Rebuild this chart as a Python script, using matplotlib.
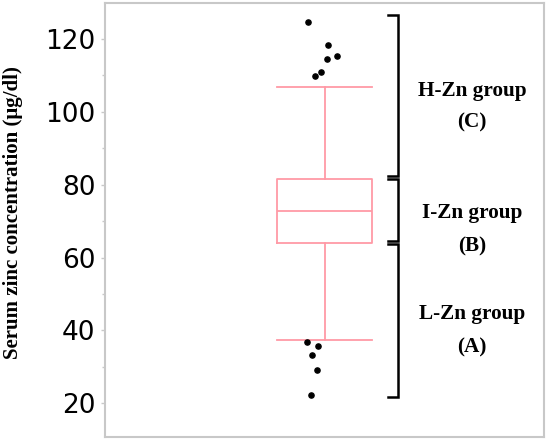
import matplotlib
matplotlib.use('Agg')
import matplotlib.pyplot as plt
from matplotlib.ticker import MultipleLocator

# Box summary (µg/dl)
q1, median, q3 = 64.0, 72.7, 81.5
whisker_low, whisker_high = 37.3, 106.8

# Outliers, with small horizontal jitter as seen in the picture
outlier_x = [-0.075, 0.016, 0.057, 0.011, -0.016, -0.043,
             -0.080, -0.030, -0.057, -0.034, -0.061]
outlier_y = [124.7, 118.3, 115.3, 114.5, 110.9, 109.8,
             36.8, 35.7, 33.2, 29.1, 22.2]

# Group brackets (bottom, top) and their labels
bracket_ranges = [(82.4, 126.6), (64.5, 81.5), (21.6, 63.7)]
group_names = ['H-Zn group', 'I-Zn group', 'L-Zn group']
group_letters = ['(C)', '(B)', '(A)']
name_y = [105.7, 72.2, 44.4]
letter_y = [97.2, 62.9, 35.4]

PINK = '#ff9aa6'
GRAY = '#c8c8c8'

fig = plt.figure(figsize=(5.5, 4.43), dpi=100)
ax = fig.add_axes([105 / 550, 1 - 437 / 443, 439 / 550, 434 / 443])

box_w = 0.437
ax.bxp([{'med': median, 'q1': q1, 'q3': q3,
         'whislo': whisker_low, 'whishi': whisker_high, 'fliers': []}],
       positions=[0], widths=box_w, showfliers=False,
       boxprops=dict(color=PINK, linewidth=1.3),
       medianprops=dict(color=PINK, linewidth=1.3),
       whiskerprops=dict(color=PINK, linewidth=1.3),
       capprops=dict(color=PINK, linewidth=1.3),
       capwidths=box_w)

ax.scatter(outlier_x, outlier_y, s=14, color='black', zorder=3)

bx, tick = 0.335, 0.046
for lo, hi in bracket_ranges:
    ax.plot([bx - tick, bx, bx, bx - tick], [hi, hi, lo, lo],
            color='black', linewidth=1.8, solid_joinstyle='miter')

for name, letter, ny, ly in zip(group_names, group_letters, name_y, letter_y):
    ax.text(0.672, ny, name, ha='center', va='center',
            family='Liberation Serif', fontweight='bold', fontsize=15.3)
    ax.text(0.672, ly, letter, ha='center', va='center',
            family='Liberation Serif', fontweight='bold', fontsize=15.3)

ax.set_xlim(-1, 1)
ax.set_ylim(10.7, 129.9)
ax.set_xticks([])
ax.yaxis.set_major_locator(MultipleLocator(20))
ax.yaxis.set_minor_locator(MultipleLocator(10))
ax.tick_params(axis='y', which='major', length=3, width=1, color=GRAY,
               labelsize=19, pad=4)
ax.tick_params(axis='y', which='minor', length=2, width=1, color=GRAY)
for sp in ax.spines.values():
    sp.set_color(GRAY)
    sp.set_linewidth(1.5)

fig.text(13 / 550, 1 - 213 / 443, 'Serum zinc concentration (μg/dl)',
         rotation=90, ha='center', va='center',
         family='Liberation Serif', fontweight='bold', fontsize=15)

fig.savefig('out.png', dpi=100)
